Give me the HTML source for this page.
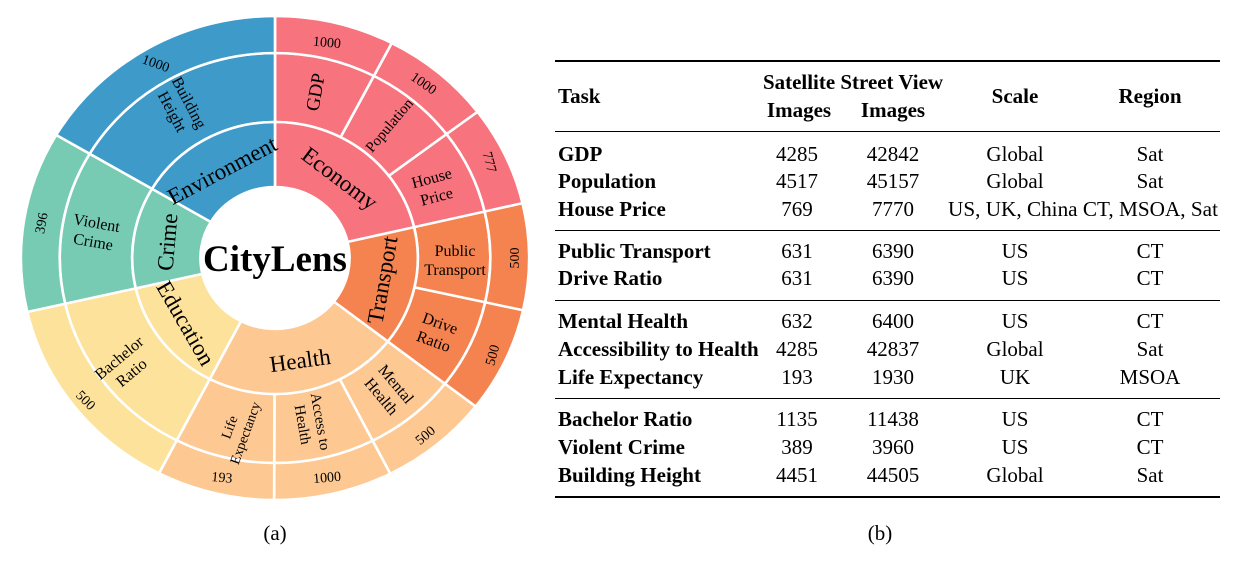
<!DOCTYPE html>
<html><head><meta charset="utf-8"><style>
body{margin:0;background:#fff;width:1235px;height:570px;overflow:hidden}
svg{display:block;font-family:"Liberation Serif",serif}
</style></head><body>
<svg id="s" width="1235" height="570" viewBox="0 0 1235 570">
<g id="rings" transform="translate(275,0) scale(1.05,1) translate(-275,0)"></g>
<g id="sun"></g>
<text x="275" y="540" font-size="21" text-anchor="middle">(a)</text>
<text x="880" y="540" font-size="21" text-anchor="middle">(b)</text>
<g id="tbl"></g>
</svg>
<script>
const categories=["Economy","Transport","Health","Education","Crime","Environment"];
const catColors=["#F7737D","#F5834F","#FDC892","#FDE29B","#77CBB3","#3D9AC9"];
const taskNames=["GDP","Population","House Price","Public Transport","Drive Ratio","Mental Health","Access to Health","Life Expectancy","Bachelor Ratio","Violent Crime","Building Height"];
const taskCat=[0,0,0,1,1,2,2,2,3,4,5];
const taskWeights=[27.4,25.5,24.1,25.6,25.4,25.2,27.2,27,50,43.5,59.5];
const outerLabels=["1000","1000","777","500","500","500","1000","193","500","396","1000"];
const NS="http://www.w3.org/2000/svg";
const cx=275,cy=258,r0=71,r1=136,r2=205,r3=242;
const rg=document.getElementById('rings');
const g=document.getElementById('sun');
function pt(r,a){a=a*Math.PI/180;return [cx+r*Math.sin(a),cy-r*Math.cos(a)];}
function arc(ri,ro,a0,a1,fill,name){
 const p=document.createElementNS(NS,'path');
 const [x0,y0]=pt(ro,a0),[x1,y1]=pt(ro,a1),[x2,y2]=pt(ri,a1),[x3,y3]=pt(ri,a0);
 const lg=(a1-a0)>180?1:0;
 p.setAttribute('d',`M${x0},${y0}A${ro},${ro} 0 ${lg} 1 ${x1},${y1}L${x2},${y2}A${ri},${ri} 0 ${lg} 0 ${x3},${y3}Z`);
 p.setAttribute('fill',fill);p.setAttribute('stroke','#fff');p.setAttribute('stroke-width','2.5');
 
 
 rg.appendChild(p);
}
const total=taskWeights.reduce((a,b)=>a+b,0);
let a=0;const catStart=[],catEnd=[];
taskWeights.forEach((w,i)=>{
 const span=w/total*360,c=taskCat[i];
 if(catStart[c]===undefined)catStart[c]=a;
 arc(r1,r2,a,a+span,catColors[c],'segment-'+taskNames[i].toLowerCase().replace(/ /g,'-'));
 arc(r2,r3,a,a+span,catColors[c],'outer-'+taskNames[i].toLowerCase().replace(/ /g,'-'));
 a+=span;catEnd[c]=a;
});
categories.forEach((c,i)=>arc(r0,r1,catStart[i],catEnd[i],catColors[i],'category-'+c.toLowerCase()));
function txt(lines,x,y,rot,size,name,bold){
 const t=document.createElementNS(NS,'text');
 t.setAttribute('transform',`translate(${x},${y}) rotate(${rot})`);
 t.setAttribute('font-size',size);t.setAttribute('text-anchor','middle');
 if(bold)t.setAttribute('font-weight','bold');
 
 
 const lh=size*1.2,off=-(lines.length-1)*lh/2+size*0.35;
 lines.forEach((l,k)=>{const s=document.createElementNS(NS,'tspan');s.setAttribute('x',0);s.setAttribute('y',off+k*lh);s.textContent=l;t.appendChild(s);});
 g.appendChild(t);
}
txt(["CityLens"],cx,cy,0,37,'center-title',true);
const catLab=[[340,178,37],[382,280,-80],[300,360,-8],[186,323,60],[167,242,-85],[222,170,-28]];
categories.forEach((c,i)=>txt([c],catLab[i][0],catLab[i][1],catLab[i][2],23,'category-label-'+c.toLowerCase()));
const taskLines=[["GDP"],["Population"],["House","Price"],["Public","Transport"],["Drive","Ratio"],["Mental","Health"],["Access to","Health"],["Life","Expectancy"],["Bachelor","Ratio"],["Violent","Crime"],["Building","Height"]];
const taskLab=[[315,92,-80,19],[389,125,-50,15],[434,187,-15,16],[455,260,0,16],[437,332,20,16],[389,390,50,16],[312,423,80,15],[237,430,-70,14],[125,365,-40,16],[95,232,10,16],[181,107,62,16]];
taskLines.forEach((l,i)=>txt(l,taskLab[i][0],taskLab[i][1],taskLab[i][2],taskLab[i][3],'task-label-'+i));
const outPos=[[327,42,5],[424,83,35],[490,162,75],[514,258,-90],[492,355,-75],[425,435,-40],[327,477,-5],[222,477,5],[86,400,45],[41,223,-80],[156,63,20]];
outerLabels.forEach((l,i)=>txt([l],outPos[i][0],outPos[i][1],outPos[i][2],14,'count-label-'+i));

const tb=document.getElementById('tbl');
const rows=[["GDP","4285","42842","Global","Sat"],["Population","4517","45157","Global","Sat"],["House Price","769","7770","US, UK, China","CT, MSOA, Sat"],["Public Transport","631","6390","US","CT"],["Drive Ratio","631","6390","US","CT"],["Mental Health","632","6400","US","CT"],["Accessibility to Health","4285","42837","Global","Sat"],["Life Expectancy","193","1930","UK","MSOA"],["Bachelor Ratio","1135","11438","US","CT"],["Violent Crime","389","3960","US","CT"],["Building Height","4451","44505","Global","Sat"]];
const rowY=[161,188,216,258,285,328,356,384,426,454,482];
function T(x,y,s,anchor,bold,name,len){const t=document.createElementNS(NS,'text');t.setAttribute('x',x);t.setAttribute('y',y);t.setAttribute('font-size',21);t.setAttribute('text-anchor',anchor);if(bold)t.setAttribute('font-weight','bold');if(len){t.setAttribute('textLength',len);t.setAttribute('lengthAdjust','spacingAndGlyphs');}t.textContent=s;
 
 
 tb.appendChild(t);}
function L(y,w){const l=document.createElementNS(NS,'rect');l.setAttribute('x',555);l.setAttribute('y',y);l.setAttribute('width',665);l.setAttribute('height',w);l.setAttribute('fill','#000');
 
 
 tb.appendChild(l);}
L(60,2);L(131,1);L(230,1);L(300,1);L(398,1);L(496,2);
T(558,103,"Task","start",true,'header-task');
T(853,89,"Satellite Street View","middle",true,'header-images',180);
T(799,117,"Images","middle",true,'header-sat');
T(893,117,"Images","middle",true,'header-street');
T(1015,103,"Scale","middle",true,'header-scale');
T(1150,103,"Region","middle",true,'header-region');
rows.forEach((r,i)=>{const y=rowY[i];
 T(558,y,r[0],"start",true,'row-task');
 T(797,y,r[1],"middle",false,'row-sat');
 T(893,y,r[2],"middle",false,'row-street');
 if(i===2){T(948,y,"US, UK, China CT, MSOA, Sat","start",false,'row-scale-region',270);}
 else{T(1015,y,r[3],"middle",false,'row-scale');T(1150,y,r[4],"middle",false,'row-region');}
});
</script>
</body></html>
